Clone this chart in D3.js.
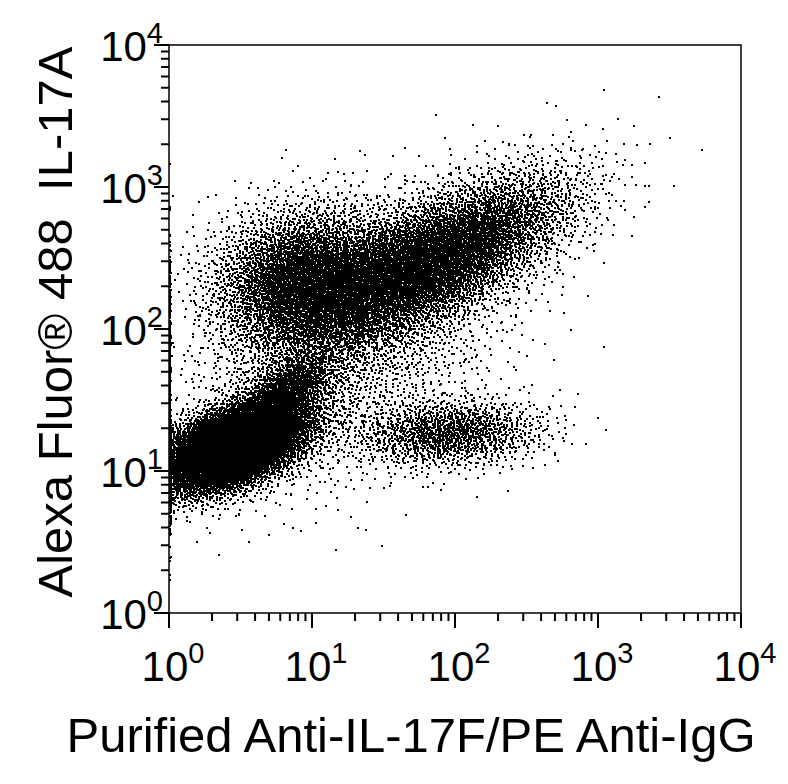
<!DOCTYPE html><html><head><meta charset="utf-8">
<script src="https://cdn.jsdelivr.net/npm/d3@7"></script>
<style>body{margin:0;background:#fff}</style></head><body>
<svg id="c" width="788" height="784"></svg>
<script>
// Populations (log10 units): centre x, centre y, sd x, sd y, correlation, count
const popNames = ["main","band","upper","lowerRight","spread","leftEdge","sparseHigh","bridge"];
const popCx   = [0.45, 1.75, 0.95, 1.95, 1.3, 0.0, 2.3, 0.8];
const popCy   = [1.18, 2.45, 2.35, 1.27, 1.9, 1.6, 2.75, 1.55];
const popSx   = [0.26, 0.5, 0.32, 0.33, 0.55, 0.0, 0.3, 0.18];
const popSy   = [0.16, 0.3, 0.25, 0.12, 0.5, 0.5, 0.25, 0.15];
const popRho  = [0.5, 0.7, 0.1, 0.1, 0.4, 0, 0.5, 0.6];
const popN    = [10500, 8500, 5000, 1500, 2500, 400, 400, 1500];
const xTicks = [0,1,2,3,4];
const yTicks = [0,1,2,3,4];

// deterministic Halton sequence (no random numbers)
function halton(i,b){let f=1,r=0;while(i>0){f/=b;r+=f*(i%b);i=Math.floor(i/b);}return r;}

const svg=d3.select("#c");
const L=169,R=741,T=45,B=613;
const x=d3.scaleLinear().domain([0,4]).range([L,R]);
const y=d3.scaleLinear().domain([0,4]).range([B,T]);
const pts=[];let k=1;
popNames.forEach((n,p)=>{
  for(let j=0;j<popN[p];j++,k++){
    const u1=Math.max(halton(k,2),1e-6),u2=halton(k,3);
    const r=Math.sqrt(-2*Math.log(u1));
    const z1=r*Math.cos(2*Math.PI*u2),z2=r*Math.sin(2*Math.PI*u2);
    const zx=z1, zy=popRho[p]*z1+Math.sqrt(1-popRho[p]**2)*z2;
    let vx=popCx[p]+popSx[p]*zx, vy=popCy[p]+popSy[p]*zy;
    if(vx<0) vx=0.01;
    if(vx>4||vy<0||vy>4) continue;
    pts.push([vx,vy]);
  }
});
const g=svg.append("g");
const ctxPath=pts.map(d=>`M${Math.round(x(d[0]))},${Math.round(y(d[1]))}h2v2h-2z`).join("");
g.append("path").attr("d",ctxPath).attr("fill","#000");

svg.append("rect").attr("x",L).attr("y",T).attr("width",R-L).attr("height",B-T)
  .attr("fill","none").attr("stroke","#000").attr("stroke-width",1.5);

const minor=[];for(let d=0;d<4;d++)for(let m=2;m<10;m++)minor.push(d+Math.log10(m));
const ax=svg.append("g").attr("stroke","#000").attr("stroke-width",2);
xTicks.forEach(t=>ax.append("line").attr("x1",x(t)).attr("x2",x(t)).attr("y1",B).attr("y2",B+15));
minor.forEach(t=>ax.append("line").attr("x1",x(t)).attr("x2",x(t)).attr("y1",B).attr("y2",B+8));
yTicks.forEach(t=>ax.append("line").attr("y1",y(t)).attr("y2",y(t)).attr("x1",L).attr("x2",L-15));
minor.forEach(t=>ax.append("line").attr("y1",y(t)).attr("y2",y(t)).attr("x1",L).attr("x2",L-8));

const font="Liberation Sans, Arial, sans-serif";
xTicks.forEach(t=>{
  const tx=svg.append("text").attr("x",x(t)+4).attr("y",B+68).attr("text-anchor","middle")
   .attr("font-family",font).attr("font-size",42);
  tx.append("tspan").text("10");
  tx.append("tspan").attr("dy",-18).attr("font-size",29).text(t);
});
yTicks.forEach(t=>{
  const tx=svg.append("text").attr("x",L-6).attr("y",y(t)+16).attr("text-anchor","end")
   .attr("font-family",font).attr("font-size",42);
  tx.append("tspan").text("10");
  tx.append("tspan").attr("dy",-18).attr("font-size",29).text(t);
});
svg.append("text").attr("x",411).attr("y",752).attr("text-anchor","middle")
 .attr("font-family",font).attr("font-size",49).text("Purified Anti-IL-17F/PE Anti-IgG");
svg.append("text").attr("transform",`translate(72,${(T+B)/2-7}) rotate(-90)`).attr("text-anchor","middle")
 .attr("font-family",font).attr("font-size",49).attr("xml:space","preserve").text("Alexa Fluor® 488  IL-17A");
</script></body></html>
